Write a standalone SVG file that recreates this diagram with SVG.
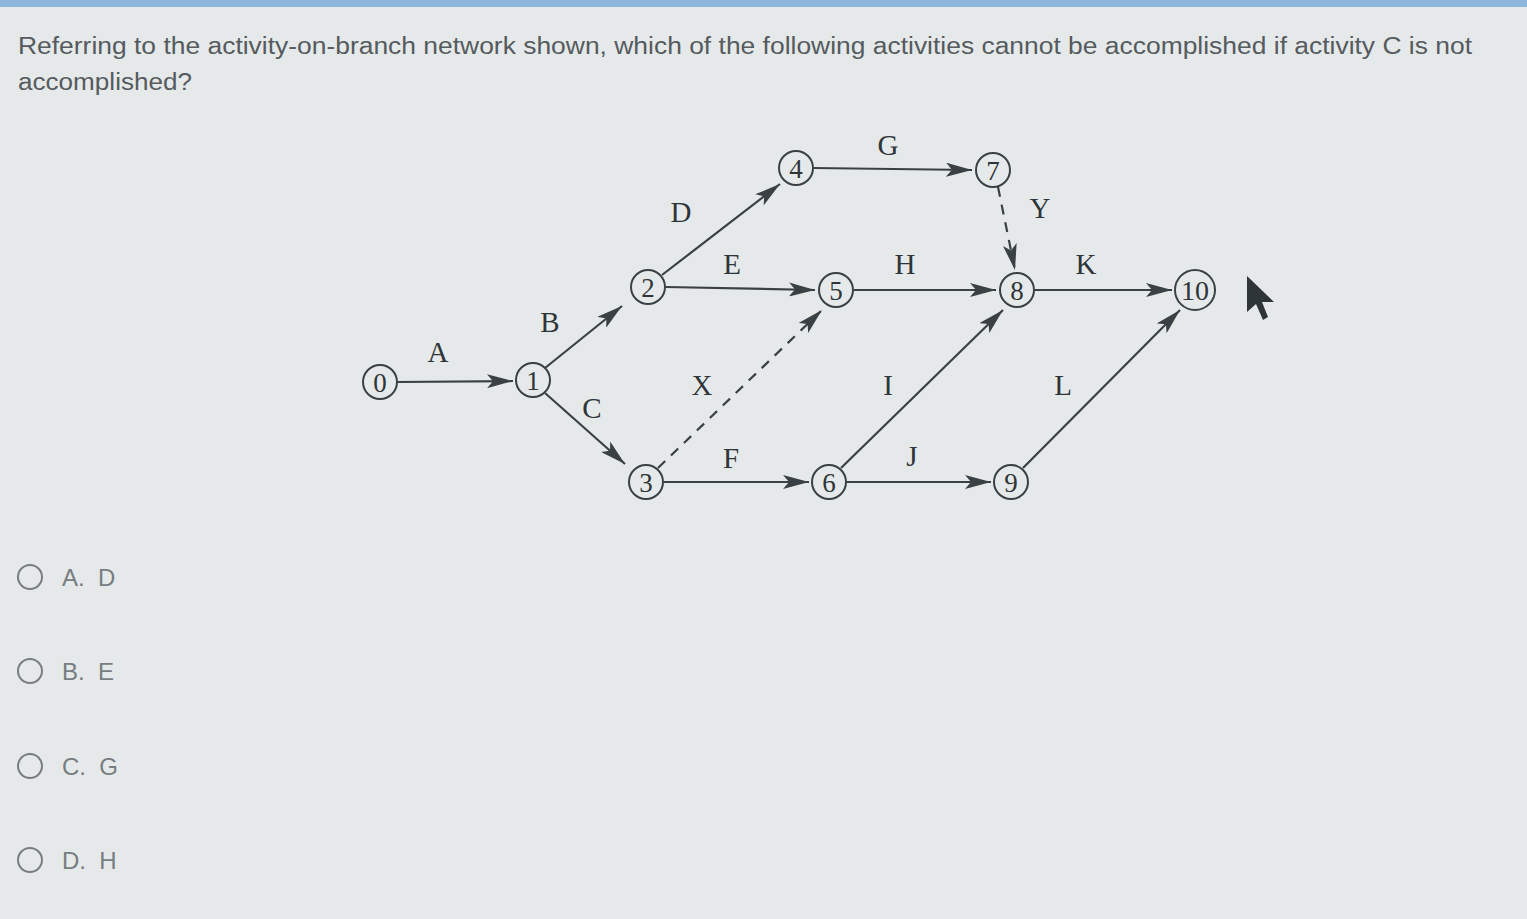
<svg xmlns="http://www.w3.org/2000/svg" width="1527" height="919" viewBox="0 0 1527 919">
<defs>
<marker id="ah" viewBox="0 0 26 14" refX="26" refY="7" markerWidth="26" markerHeight="14" markerUnits="userSpaceOnUse" orient="auto"><path d="M0,0 L26,7 L0,14 L6,7 Z" fill="#3a4144"/></marker>
</defs>
<style>
.q{font-family:"Liberation Sans",Arial,sans-serif;font-size:23px;fill:#555b5e}
.o{font-family:"Liberation Sans",Arial,sans-serif;font-size:24px;fill:#777d80}
.n circle{fill:none;stroke:#3a4144;stroke-width:2}
.n text{font-family:"Liberation Serif","Times New Roman",serif;font-size:27px;fill:#2e3538;text-anchor:middle}
.l{font-family:"Liberation Serif","Times New Roman",serif;font-size:29px;fill:#2e3538;text-anchor:middle}
.e line{stroke:#3a4144;stroke-width:2.2;marker-end:url(#ah)}
.e .d{stroke-dasharray:10,8}
.rb{fill:none;stroke:#777d80;stroke-width:2}
</style>
<rect width="1527" height="919" fill="#e6e9e9"/>
<rect width="1527" height="7" fill="#8fb6dc"/>
<text class="q" x="18" y="54" textLength="1454" lengthAdjust="spacingAndGlyphs">Referring to the activity-on-branch network shown, which of the following activities cannot be accomplished if activity C is not</text>
<text class="q" x="18" y="90" textLength="174" lengthAdjust="spacingAndGlyphs">accomplished?</text>
<g id="connectors" class="e">
<line x1="397" y1="382" x2="513" y2="381"/>
<line x1="545" y1="368" x2="622" y2="306"/>
<line x1="545" y1="393" x2="625" y2="464"/>
<line x1="662" y1="275" x2="780" y2="184"/>
<line x1="666" y1="287" x2="815" y2="290"/>
<line class="d" x1="658" y1="468" x2="822" y2="310"/>
<line x1="664" y1="482" x2="809" y2="482"/>
<line x1="814" y1="168" x2="972" y2="170"/>
<line class="d" x1="998" y1="187" x2="1015" y2="270"/>
<line x1="854" y1="290" x2="996" y2="290"/>
<line x1="841" y1="468" x2="1003" y2="310"/>
<line x1="847" y1="482" x2="991" y2="482"/>
<line x1="1035" y1="290" x2="1172" y2="290"/>
<line x1="1023" y1="468" x2="1180" y2="310"/>
</g>
<g class="l">
<text x="438" y="362">A</text><text x="550" y="332">B</text><text x="592" y="418">C</text>
<text x="681" y="222">D</text><text x="732" y="274">E</text><text x="702" y="395">X</text>
<text x="731" y="468">F</text><text x="888" y="155">G</text><text x="905" y="274">H</text>
<text x="888" y="395">I</text><text x="912" y="466">J</text><text x="1040" y="218">Y</text>
<text x="1086" y="274">K</text><text x="1063" y="395">L</text>
</g>
<g id="n0" class="n"><circle cx="380" cy="382" r="17"/><text x="380" y="392">0</text></g>
<g id="n1" class="n"><circle cx="533" cy="380" r="17"/><text x="533" y="390">1</text></g>
<g id="n2" class="n"><circle cx="648" cy="287" r="17"/><text x="648" y="297">2</text></g>
<g id="n3" class="n"><circle cx="646" cy="482" r="17"/><text x="646" y="492">3</text></g>
<g id="n4" class="n"><circle cx="796" cy="168" r="17"/><text x="796" y="178">4</text></g>
<g id="n5" class="n"><circle cx="836" cy="290" r="17"/><text x="836" y="300">5</text></g>
<g id="n6" class="n"><circle cx="829" cy="482" r="17"/><text x="829" y="492">6</text></g>
<g id="n7" class="n"><circle cx="993" cy="170" r="17"/><text x="993" y="180">7</text></g>
<g id="n8" class="n"><circle cx="1017" cy="290" r="17"/><text x="1017" y="300">8</text></g>
<g id="n9" class="n"><circle cx="1011" cy="482" r="17"/><text x="1011" y="492">9</text></g>
<g id="n10" class="n"><circle cx="1195" cy="290" r="20"/><text x="1195" y="300" textLength="28" lengthAdjust="spacingAndGlyphs">10</text></g>
<path d="M1247,276 L1247,312 L1256,304 L1263,320 L1268,317 L1262,302 L1274,302 Z" fill="#2e3538"/>
<circle class="rb" cx="30" cy="577" r="12"/><text class="o" x="62" y="586" xml:space="preserve">A.  D</text>
<circle class="rb" cx="30" cy="671" r="12"/><text class="o" x="62" y="680" xml:space="preserve">B.  E</text>
<circle class="rb" cx="30" cy="766" r="12"/><text class="o" x="62" y="775" xml:space="preserve">C.  G</text>
<circle class="rb" cx="30" cy="860" r="12"/><text class="o" x="62" y="869" xml:space="preserve">D.  H</text>
</svg>
